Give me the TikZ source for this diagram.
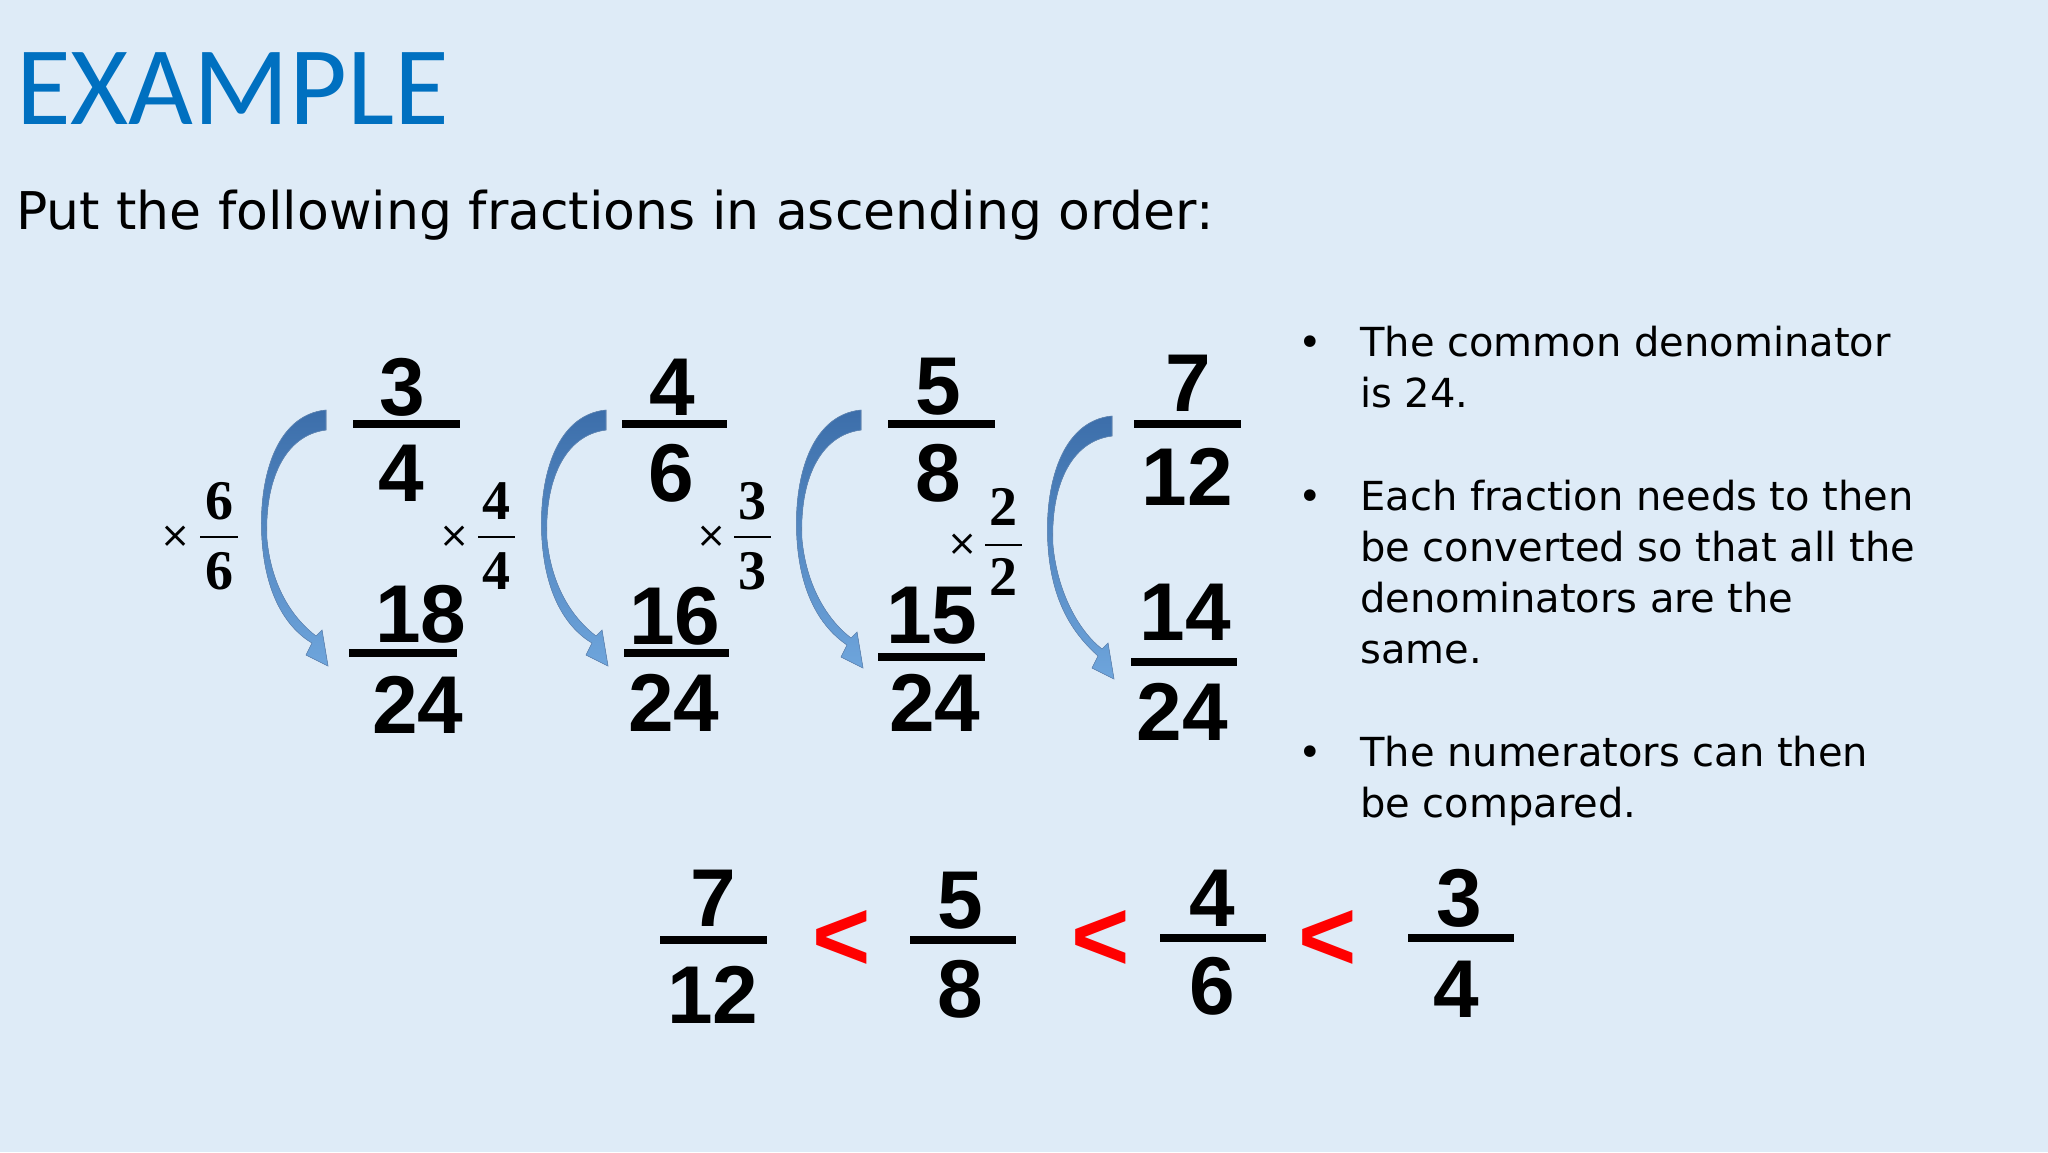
\documentclass[tikz,border=0pt]{standalone}
\usepackage{fontspec}
\setmainfont{DejaVu Sans}
\newfontfamily\titlefont{Carlito}
\newfontfamily\arialb{Liberation Sans}[BoldFont={* Bold}]
\newfontfamily\serifb{Liberation Serif}
\definecolor{bg}{RGB}{222,235,247}
\definecolor{titleblue}{RGB}{0,112,192}
\definecolor{arrdark}{RGB}{60,110,170}
\definecolor{arrlight}{RGB}{110,165,220}
\tikzset{
  dig/.style={inner sep=0pt,font=\arialb\bfseries\fontsize{82}{82}\selectfont},
  mdig/.style={inner sep=0pt,font=\serifb\bfseries\fontsize{56}{56}\selectfont},
  times/.style={inner sep=0pt,font=\fontsize{36}{36}\selectfont},
  bar/.style={line width=8pt},
  mbar/.style={line width=2.5pt},
  lt/.style={inner sep=0pt,text=red,font=\arialb\bfseries\fontsize{100}{100}\selectfont},
  btxt/.style={inner sep=0pt,anchor=base west,font=\fontsize{40}{40}\selectfont},
  carrow/.style={shading=axis,top color=arrdark,bottom color=arrlight,draw=arrdark!80,line width=0.6pt}
}
\newcommand{\curvarrow}[3]{% name, dx, dy-scale
\begin{scope}[shift={(#2,0)}]
\fill[carrow] (326,410) .. controls (275,415) and (258,480) .. (262,540)
  .. controls (266,600) and (290,630) .. (312,#3-17)
  -- (306,#3-5) -- (328,#3+6) -- (322,#3-30) -- (316,#3-24)
  .. controls (295,#3-40) and (272,590) .. (267,540)
  .. controls (264,480) and (285,435) .. (326,430) -- cycle;
\coordinate (#1) at (326,420);
\end{scope}}
\begin{document}
\begin{tikzpicture}[x=1pt,y=-1pt]
\fill[bg] (0,0) rectangle (2048,1152);
\useasboundingbox (0,0) rectangle (2048,1152);
\node[inner sep=0pt,anchor=base west,text=titleblue,font=\titlefont\fontsize{112}{112}\selectfont] (title) at (16,124) {EXAMPLE};
\node[inner sep=0pt,anchor=base west,font=\fontsize{52}{52}\selectfont] (sub) at (16,229) {Put the following fractions in ascending order:};

% fractions top row
\node[dig] (n1) at (402,387) {3}; \draw[bar] (353,424) -- (460,424); \node[dig] (d1) at (401,473) {4};
\node[dig] (n2) at (672,387) {4}; \draw[bar] (622,424) -- (727,424); \node[dig] (d2) at (671,473) {6};
\node[dig] (n3) at (938,387) {5}; \draw[bar] (888,424) -- (995,424); \node[dig] (d3) at (938,473) {8};
\node[dig] (n4) at (1188,383) {7}; \draw[bar] (1134,424) -- (1241,424); \node[dig] (d4) at (1187,477) {12};
% converted
\node[dig] (m1) at (421,614) {18}; \draw[bar] (349,653) -- (457,653); \node[dig] (e1) at (418,705) {24};
\node[dig] (m2) at (675,616) {16}; \draw[bar] (624,653) -- (729,653); \node[dig] (e2) at (674,703) {24};
\node[dig] (m3) at (932,616) {15}; \draw[bar] (878,657) -- (985,657); \node[dig] (e3) at (935,703) {24};
\node[dig] (m4) at (1185,612) {14}; \draw[bar] (1131,662) -- (1237,662); \node[dig] (e4) at (1182,712) {24};

% multipliers
\node[times] (x1) at (176,537) {×}; \node[mdig] (p1) at (219,501) {6}; \draw[mbar] (200,537) -- (238,537); \node[mdig] (q1) at (219,571) {6};
\node[times] (x2) at (455,537) {×}; \node[mdig] (p2) at (496,501) {4}; \draw[mbar] (478,537) -- (515,537); \node[mdig] (q2) at (496,571) {4};
\node[times] (x3) at (712,537) {×}; \node[mdig] (p3) at (752,501) {3}; \draw[mbar] (734,537) -- (771,537); \node[mdig] (q3) at (752,571) {3};
\node[times] (x4) at (963,545) {×}; \node[mdig] (p4) at (1003,507) {2}; \draw[mbar] (985,545) -- (1022,545); \node[mdig] (q4) at (1003,577) {2};

% curved arrows
\curvarrow{a1}{0}{660}
\curvarrow{a2}{280}{660}
\curvarrow{a3}{535}{662}
\begin{scope}[shift={(0,6)}]\curvarrow{a4}{786}{667}\end{scope}

% bullets
\node[btxt] (b1) at (1298,356) {•}; \node[btxt] (t11) at (1360,356) {The common denominator};
\node[btxt] (t12) at (1360,407) {is 24.};
\node[btxt] (b2) at (1298,510) {•}; \node[btxt] (t21) at (1360,510) {Each fraction needs to then};
\node[btxt] (t22) at (1360,561) {be converted so that all the};
\node[btxt] (t23) at (1360,612) {denominators are the};
\node[btxt] (t24) at (1360,663) {same.};
\node[btxt] (b3) at (1298,766) {•}; \node[btxt] (t31) at (1360,766) {The numerators can then};
\node[btxt] (t32) at (1360,817) {be compared.};

% bottom ordering
\node[dig] (o1n) at (713,898) {7}; \draw[bar] (660,940) -- (767,940); \node[dig] (o1d) at (713,995) {12};
\node[lt] (l1) at (842,940) {<};
\node[dig] (o2n) at (960,901) {5}; \draw[bar] (910,940) -- (1016,940); \node[dig] (o2d) at (960,989) {8};
\node[lt] (l2) at (1101,940) {<};
\node[dig] (o3n) at (1212,898) {4}; \draw[bar] (1160,938) -- (1266,938); \node[dig] (o3d) at (1212,986) {6};
\node[lt] (l3) at (1328,940) {<};
\node[dig] (o4n) at (1459,898) {3}; \draw[bar] (1408,938) -- (1514,938); \node[dig] (o4d) at (1456,989) {4};
\end{tikzpicture}
\end{document}
